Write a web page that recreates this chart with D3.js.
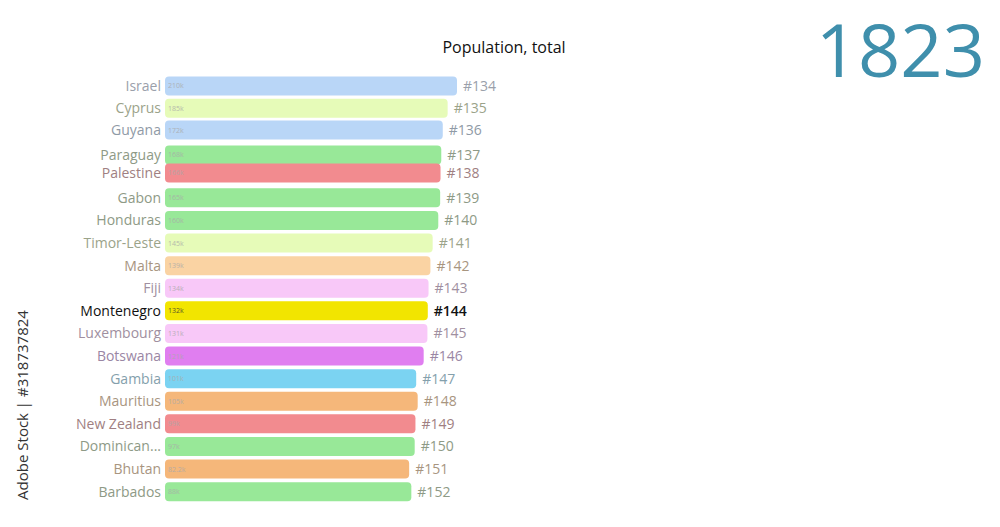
<!DOCTYPE html>
<html><head><meta charset="utf-8">
<script src="https://cdn.jsdelivr.net/npm/d3@7"></script>
<style>body{margin:0;background:#fff;font-family:"Open Sans",sans-serif;}</style>
</head><body><div id="chart"></div>
<script>
const countries = ["Israel","Cyprus","Guyana","Paraguay","Palestine","Gabon","Honduras","Timor-Leste","Malta","Fiji","Montenegro","Luxembourg","Botswana","Gambia","Mauritius","New Zealand","Dominican...","Bhutan","Barbados"];
const values = [210,185,172,168,166,165,160,145,139,134,132,131,121,101,105,99,97,82.2,88];
const valueLabels = ["210k","185k","172k","168k","166k","165k","160k","145k","139k","134k","132k","131k","121k","101k","105k","99k","97k","82.2k","88k"];
const ranks = [134,135,136,137,138,139,140,141,142,143,144,145,146,147,148,149,150,151,152];
// fractional slots (rows mid-swap in the animation frame)
const slots = [0,0.98,1.95,3.05,3.85,4.95,5.95,6.95,7.95,8.95,9.95,10.95,11.95,12.95,13.95,14.95,15.95,16.95,17.95];
const barColors = ["#b9d6f7","#e6fbb8","#b9d6f7","#98e898","#f28b8f","#98e898","#98e898","#e6fbb8","#fad3a3","#f8c8f8","#f2e500","#f8c8f8","#e07ef0","#7bd3f2","#f5b77a","#f28b8f","#98e898","#f5b77a","#98e898"];
const textColors = ["#9aa0aa","#9ba38a","#8f9aa6","#8e9a86","#a07f82","#8e9a86","#8e9a86","#9ba38a","#a8957f","#a08fa0","#111","#a08fa0","#9a86a4","#84a0ac","#a8957f","#a07f82","#8e9a86","#a8957f","#8e9a86"];
const year = "1823";

const W = 1000, H = 527;
const svg = d3.select("#chart").append("svg").attr("width", W).attr("height", H);

const x = d3.scaleLinear().domain([-570, 210]).range([0, 292]);
const y = d3.scaleLinear().domain([0, 1]).range([86, 108.6]);
const x0 = 165, barH = 19;

svg.append("text").attr("x", 504).attr("y", 53).attr("text-anchor", "middle")
  .style("font-size", "16px").style("fill", "#111").text("Population, total");
svg.append("text").attr("x", 985).attr("y", 77).attr("text-anchor", "end")
  .style("font-size", "74px").style("fill", "#3f8fac").text(year);
svg.append("text").attr("transform", "translate(28,405)rotate(-90)").attr("text-anchor", "middle")
  .style("font-size", "15px").style("fill", "#333").text("Adobe Stock | #318737824");

const rows = svg.selectAll(".row").data(countries).enter().append("g")
  .attr("transform", (d, i) => `translate(0,${y(slots[i])})`);

rows.append("rect").attr("x", x0).attr("y", -barH / 2)
  .attr("width", (d, i) => x(values[i])).attr("height", barH)
  .attr("rx", 4).attr("fill", (d, i) => barColors[i]);
rows.append("text").attr("x", x0 - 4).attr("dy", "0.35em").attr("text-anchor", "end")
  .style("font-size", "14px").style("fill", (d, i) => textColors[i]).text(d => d);
rows.append("text").attr("x", x0 + 3).attr("dy", "0.35em")
  .style("font-size", "7px").style("fill", (d, i) => i === 10 ? "#333" : "#aaa").style("opacity", 0.8)
  .text((d, i) => valueLabels[i]);
rows.append("text").attr("x", (d, i) => x0 + x(values[i]) + 6).attr("dy", "0.35em")
  .style("font-size", "14px").style("fill", (d, i) => textColors[i])
  .style("font-weight", (d, i) => i === 10 ? 600 : 400).text((d, i) => "#" + ranks[i]);
</script></body></html>
